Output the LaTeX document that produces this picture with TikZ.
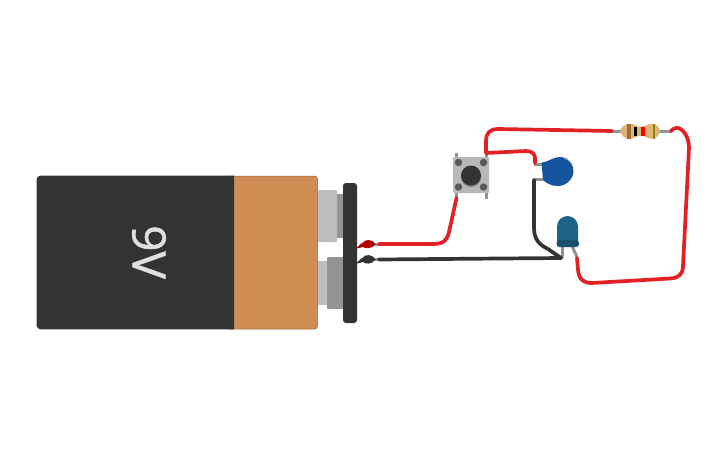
\documentclass[tikz,border=0pt]{standalone}
\usepackage{fontspec}
\newfontfamily\labelfont{Open Sans}[FakeBold=1.2]
\definecolor{coal}{HTML}{333333}
\definecolor{copper}{HTML}{CF8E55}
\definecolor{wirered}{HTML}{E22126}
\definecolor{capblue}{HTML}{14559E}
\definecolor{ledblue}{HTML}{1F6488}
\definecolor{tan}{HTML}{DDB578}
\tikzset{
  wire/.style={line width=3.7pt,line cap=round,line join=round},
  redwire/.style={wire,wirered},
  blackwire/.style={wire,coal},
  lead/.style={line width=3pt,gray!85},
  hole/.style={circle,fill=black!65,minimum size=7.5pt,inner sep=0pt},
}
\begin{document}
\begin{tikzpicture}[x=1pt,y=-1pt]
    \useasboundingbox (0,0) rectangle (725,453);
    % battery
    \draw[copper!70!black,line width=.5pt,fill=copper,rounded corners=3pt](226,176)rectangle(317.5,329);
    \fill[coal](234,175.7)[rounded corners=4pt]--(36.5,175.7)--(36.5,329.3)[sharp corners]--(234,329.3)--cycle;
    \node[white!88!black,rotate=-90,font=\labelfont\fontsize{46}{46}\selectfont] (label) at (149,252) {9V};
    % terminals
    \fill[black!42](337,194)rectangle(344,238);
    \fill[black!26,rounded corners=1pt](318,190)rectangle(337,242);
    \fill[black!26](318,261)rectangle(328,305);
    \fill[black!42,rounded corners=1pt](327,257)rectangle(344,309);
    \fill[coal,rounded corners=3pt](343,183)rectangle(357,323);
    % push button
    \draw[lead](456,153)--(456,157);
    \draw[lead](486,153)--(486,157);
    \draw[lead](456,193)--(456,199);
    \draw[lead](486,193)--(486,199);
    \fill[black!28,rounded corners=1pt](453,157)rectangle(489,193);
    \node[hole] (holea) at (458.5,162.5) {};
    \node[hole] (holeb) at (483.5,162.5) {};
    \node[hole] (holec) at (458.5,187) {};
    \node[hole] (holed) at (483.5,187) {};
    \fill[black!50](471,177)circle(10);
    \fill[coal](471,175.5)circle(10);
    % capacitor
    \draw[lead](534,164)--(545,164);
    \draw[lead](534,179)--(545,179);
    \fill[capblue](541.5,162.5)..controls(548,162.5)and(552,157)..(561,157)
        ..controls(568,157)and(573.5,164)..(573.5,171)
        ..controls(573.5,179)and(566,186)..(558,186)
        ..controls(551,186)and(546,183)..(543,180)--cycle;
    \draw[capblue!55!white,line width=.7pt](564,158.5)..controls(568,159.5)and(570.5,161.5)..(571.5,164);
    % led
    \draw[lead](562,246)--(562,258);
    \draw[lead](572,246)--(577,257);
    \fill[ledblue](557,243)--(557,226.5)arc[start angle=180,end angle=360,radius=10.5]--(578,243)--cycle;
    \fill[ledblue!80!black,rounded corners=3pt](556.5,240)rectangle(579,247);
    % resistor
    \draw[lead](610,131)--(672,131);
    \fill[tan,rounded corners=2pt](619,131)--(625,124)--(634,124)--(637,126.5)--(645,126.5)--(648,124)--(656,124)--(661,131)--(656,138.5)--(648,138.5)--(645,136)--(637,136)--(634,138.5)--(625,138.5)--cycle;
    \fill[brown!85!black](627,124)rectangle(630.5,138.5);
    \fill[black](633.5,126.5)rectangle(637,136);
    \fill[red](641,126.5)rectangle(645,136);
    \fill[olive](653,124)rectangle(655,138.5);
    % battery clips
    \draw[lead](374,244)--(379,244);
    \draw[lead](374,259.5)--(379,259.5);
    \fill[red!70!black,draw=red!70!black,line width=.8pt](357,248)..controls(360,246)and(361,243)..(363,243)..controls(365,239.5)and(372,239.5)..(375,244)..controls(372,248.5)and(365,248.5)..(363,246.5)..controls(361,246.5)and(360,248)..(357,248)--cycle;
    \fill[coal,draw=coal,line width=.8pt](357,263)..controls(360,261)and(361,258)..(363,258)..controls(365,254.5)and(372,254.5)..(375,259.5)..controls(372,264)and(365,264)..(363,261.5)..controls(361,261.5)and(360,263)..(357,263)--cycle;
    % wires
    \coordinate (clipred) at (379,244);
    \coordinate (clipblack) at (379,259.5);
    \coordinate (btnbl) at (456.5,198);
    \coordinate (btntr) at (486,153);
    \coordinate (resleft) at (612,131);
    \coordinate (resright) at (671,131);
    \coordinate (captop) at (535,163);
    \coordinate (capbot) at (534,180);
    \coordinate (ledneg) at (561,258);
    \coordinate (ledpos) at (577,258);
    \draw[redwire](clipred)--(433,244)..controls(444,244)and(447,240)..(449,232)--(btnbl);
    \draw[redwire](btntr)--(486,141)..controls(486,133)and(490,129)..(498,129)--(resleft);
    \draw[redwire](btntr)--(526,151)..controls(532,151)and(535,154)..(535,158)--(captop);
    \draw[blackwire](capbot)--(534,228)..controls(534,240)and(540,245)..(548,249)--(ledneg);
    \draw[blackwire](clipblack)--(ledneg);
    \draw[redwire](ledpos)--(578,270)..controls(579,280)and(584,283)..(592,283)--(670,278.5)..controls(679,278)and(683,274)..(683,266)--(689,148)..controls(689,136)and(682,127)..(676,128)..controls(674,128)and(672,130)..(resright);
\end{tikzpicture}
\end{document}
